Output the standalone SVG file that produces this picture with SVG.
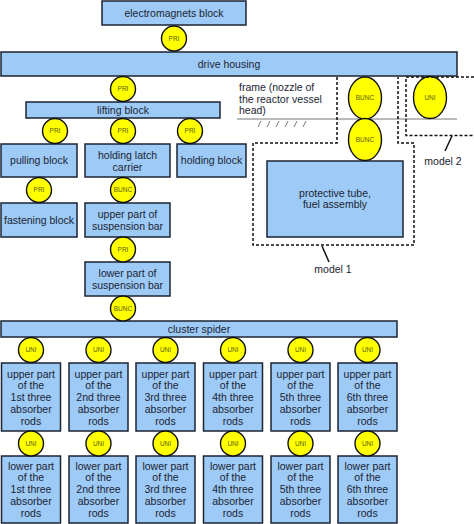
<svg xmlns="http://www.w3.org/2000/svg" width="474" height="524" viewBox="0 0 474 524">
<style>
.b{fill:#9dcaf6;stroke:#1c2433;stroke-width:1.5}
.c{fill:#ffff00;stroke:#111;stroke-width:1.4}
.t{font-family:"Liberation Sans",Arial,sans-serif;font-size:10.5px;fill:#1c2433;text-anchor:middle}
.ct{font-family:"Liberation Sans",Arial,sans-serif;font-size:6.5px;fill:#5c5c00;text-anchor:middle}
.d{fill:none;stroke:#111;stroke-width:1.5;stroke-dasharray:3 2}
.l{fill:none;stroke:#111;stroke-width:1.5}
.g{fill:none;stroke:#777;stroke-width:1}
.lab{font-family:"Liberation Sans",Arial,sans-serif;font-size:10.5px;fill:#1c2433}
</style>
<rect width="474" height="524" fill="#fff"/>
<g id="frame">
<text class="lab" x="239" y="91">frame (nozzle of</text>
<text class="lab" x="239" y="102.5">the reactor vessel</text>
<text class="lab" x="239" y="114">head)</text>
<line class="g" x1="237" y1="119" x2="457" y2="119"/>
<path class="g" d="M258,127 L261,121 M267,127 L270,121 M276,127 L279,121 M285,127 L288,121 M294,127 L297,121 M303,127 L306,121"/>
</g>
<g id="electromagnets"><rect class="b" x="102" y="1" width="144" height="24"/><text class="t" x="174" y="16.7">electromagnets block</text></g>
<g id="drive-housing"><rect class="b" x="1" y="52" width="456" height="24"/><text class="t" x="229" y="67.7">drive housing</text></g>
<g id="lifting"><rect class="b" x="26" y="102" width="194" height="16"/><text class="t" x="123" y="113.7">lifting block</text></g>
<g id="pulling"><rect class="b" x="1" y="144" width="76" height="33"/><text class="t" x="39" y="164.2">pulling block</text></g>
<g id="latch"><rect class="b" x="85" y="144" width="85" height="33"/><text class="t" x="127.5" y="158.7">holding latch</text><text class="t" x="127.5" y="170.5">carrier</text></g>
<g id="holding"><rect class="b" x="177" y="144" width="69" height="33"/><text class="t" x="211.5" y="164.2">holding block</text></g>
<g id="fastening"><rect class="b" x="1" y="203" width="76" height="34"/><text class="t" x="39" y="223.7">fastening block</text></g>
<g id="upper-bar"><rect class="b" x="85" y="203" width="85" height="34"/><text class="t" x="127.5" y="217.7">upper part of</text><text class="t" x="127.5" y="229.7">suspension bar</text></g>
<g id="lower-bar"><rect class="b" x="85" y="262" width="85" height="34"/><text class="t" x="127.5" y="276.7">lower part of</text><text class="t" x="127.5" y="288.7">suspension bar</text></g>
<g id="spider"><rect class="b" x="1" y="321" width="396" height="16"/><text class="t" x="199" y="332.7">cluster spider</text></g>
<g id="tube"><rect class="b" x="267" y="161" width="136" height="76"/><text class="t" x="335" y="196.7">protective tube,</text><text class="t" x="335" y="208.2">fuel assembly</text></g>
<g id="upper-rods" class="t">
<rect class="b" x="1.5" y="363" width="59" height="68"/>
<rect class="b" x="69" y="363" width="59" height="68"/>
<rect class="b" x="136" y="363" width="59" height="68"/>
<rect class="b" x="203.5" y="363" width="59" height="68"/>
<rect class="b" x="271" y="363" width="59" height="68"/>
<rect class="b" x="338" y="363" width="59" height="68"/>
<text x="31" y="377.5">upper part<tspan x="31" dy="11.8">of the</tspan><tspan x="31" dy="11.8">1st three</tspan><tspan x="31" dy="11.8">absorber</tspan><tspan x="31" dy="11.8">rods</tspan></text>
<text x="98.5" y="377.5">upper part<tspan x="98.5" dy="11.8">of the</tspan><tspan x="98.5" dy="11.8">2nd three</tspan><tspan x="98.5" dy="11.8">absorber</tspan><tspan x="98.5" dy="11.8">rods</tspan></text>
<text x="165.5" y="377.5">upper part<tspan x="165.5" dy="11.8">of the</tspan><tspan x="165.5" dy="11.8">3rd three</tspan><tspan x="165.5" dy="11.8">absorber</tspan><tspan x="165.5" dy="11.8">rods</tspan></text>
<text x="233" y="377.5">upper part<tspan x="233" dy="11.8">of the</tspan><tspan x="233" dy="11.8">4th three</tspan><tspan x="233" dy="11.8">absorber</tspan><tspan x="233" dy="11.8">rods</tspan></text>
<text x="300.5" y="377.5">upper part<tspan x="300.5" dy="11.8">of the</tspan><tspan x="300.5" dy="11.8">5th three</tspan><tspan x="300.5" dy="11.8">absorber</tspan><tspan x="300.5" dy="11.8">rods</tspan></text>
<text x="367.5" y="377.5">upper part<tspan x="367.5" dy="11.8">of the</tspan><tspan x="367.5" dy="11.8">6th three</tspan><tspan x="367.5" dy="11.8">absorber</tspan><tspan x="367.5" dy="11.8">rods</tspan></text>
</g>
<g id="lower-rods" class="t">
<rect class="b" x="1.5" y="456" width="59" height="67"/>
<rect class="b" x="69" y="456" width="59" height="67"/>
<rect class="b" x="136" y="456" width="59" height="67"/>
<rect class="b" x="203.5" y="456" width="59" height="67"/>
<rect class="b" x="271" y="456" width="59" height="67"/>
<rect class="b" x="338" y="456" width="59" height="67"/>
<text x="31" y="469.5">lower part<tspan x="31" dy="11.8">of the</tspan><tspan x="31" dy="11.8">1st three</tspan><tspan x="31" dy="11.8">absorber</tspan><tspan x="31" dy="11.8">rods</tspan></text>
<text x="98.5" y="469.5">lower part<tspan x="98.5" dy="11.8">of the</tspan><tspan x="98.5" dy="11.8">2nd three</tspan><tspan x="98.5" dy="11.8">absorber</tspan><tspan x="98.5" dy="11.8">rods</tspan></text>
<text x="165.5" y="469.5">lower part<tspan x="165.5" dy="11.8">of the</tspan><tspan x="165.5" dy="11.8">3rd three</tspan><tspan x="165.5" dy="11.8">absorber</tspan><tspan x="165.5" dy="11.8">rods</tspan></text>
<text x="233" y="469.5">lower part<tspan x="233" dy="11.8">of the</tspan><tspan x="233" dy="11.8">4th three</tspan><tspan x="233" dy="11.8">absorber</tspan><tspan x="233" dy="11.8">rods</tspan></text>
<text x="300.5" y="469.5">lower part<tspan x="300.5" dy="11.8">of the</tspan><tspan x="300.5" dy="11.8">5th three</tspan><tspan x="300.5" dy="11.8">absorber</tspan><tspan x="300.5" dy="11.8">rods</tspan></text>
<text x="367.5" y="469.5">lower part<tspan x="367.5" dy="11.8">of the</tspan><tspan x="367.5" dy="11.8">6th three</tspan><tspan x="367.5" dy="11.8">absorber</tspan><tspan x="367.5" dy="11.8">rods</tspan></text>
</g>
<g id="connectors">
<circle class="c" cx="174" cy="38.5" r="12.5"/><text class="ct" x="174" y="40.8">PRI</text>
<circle class="c" cx="123" cy="89" r="12.5"/><text class="ct" x="123" y="91.3">PRI</text>
<circle class="c" cx="55" cy="131" r="12.5"/><text class="ct" x="55" y="133.3">PRI</text>
<circle class="c" cx="123" cy="131" r="12.5"/><text class="ct" x="123" y="133.3">PRI</text>
<circle class="c" cx="190" cy="131" r="12.5"/><text class="ct" x="190" y="133.3">PRI</text>
<circle class="c" cx="39" cy="190" r="12.5"/><text class="ct" x="39" y="192.3">PRI</text>
<circle class="c" cx="123" cy="190" r="12.5"/><text class="ct" x="123" y="192.3">BUNC</text>
<circle class="c" cx="123" cy="249.5" r="12.5"/><text class="ct" x="123" y="251.8">PRI</text>
<circle class="c" cx="123" cy="308.5" r="12.5"/><text class="ct" x="123" y="310.8">BUNC</text>
<ellipse class="c" cx="365" cy="98" rx="16.5" ry="21"/><text class="ct" x="365" y="100.3">BUNC</text>
<ellipse class="c" cx="365" cy="139.5" rx="16.5" ry="21"/><text class="ct" x="365" y="141.8">BUNC</text>
<ellipse class="c" cx="430" cy="97.5" rx="16.5" ry="21"/><text class="ct" x="430" y="99.8">UNI</text>
<g id="uni-row1">
<circle class="c" cx="31" cy="350" r="12.5"/><text class="ct" x="31" y="352.3">UNI</text>
<circle class="c" cx="98.5" cy="350" r="12.5"/><text class="ct" x="98.5" y="352.3">UNI</text>
<circle class="c" cx="165.5" cy="350" r="12.5"/><text class="ct" x="165.5" y="352.3">UNI</text>
<circle class="c" cx="233" cy="350" r="12.5"/><text class="ct" x="233" y="352.3">UNI</text>
<circle class="c" cx="300.5" cy="350" r="12.5"/><text class="ct" x="300.5" y="352.3">UNI</text>
<circle class="c" cx="367.5" cy="350" r="12.5"/><text class="ct" x="367.5" y="352.3">UNI</text>
</g>
<g id="uni-row2">
<circle class="c" cx="31" cy="443.5" r="12.5"/><text class="ct" x="31" y="445.8">UNI</text>
<circle class="c" cx="98.5" cy="443.5" r="12.5"/><text class="ct" x="98.5" y="445.8">UNI</text>
<circle class="c" cx="165.5" cy="443.5" r="12.5"/><text class="ct" x="165.5" y="445.8">UNI</text>
<circle class="c" cx="233" cy="443.5" r="12.5"/><text class="ct" x="233" y="445.8">UNI</text>
<circle class="c" cx="300.5" cy="443.5" r="12.5"/><text class="ct" x="300.5" y="445.8">UNI</text>
<circle class="c" cx="367.5" cy="443.5" r="12.5"/><text class="ct" x="367.5" y="445.8">UNI</text>
</g>
</g>
<g id="model1">
<path class="d" d="M337,77 V143 H253 V245 H414 V143 H398 V77"/>
<line class="l" x1="322" y1="246" x2="329" y2="262"/>
<text class="lab" x="333" y="273" text-anchor="middle">model 1</text>
</g>
<g id="model2">
<path class="d" d="M474,77 H406 V135.5 H474"/>
<line class="l" x1="452" y1="136" x2="445" y2="151"/>
<text class="lab" x="443" y="165" text-anchor="middle">model 2</text>
</g>
</svg>
